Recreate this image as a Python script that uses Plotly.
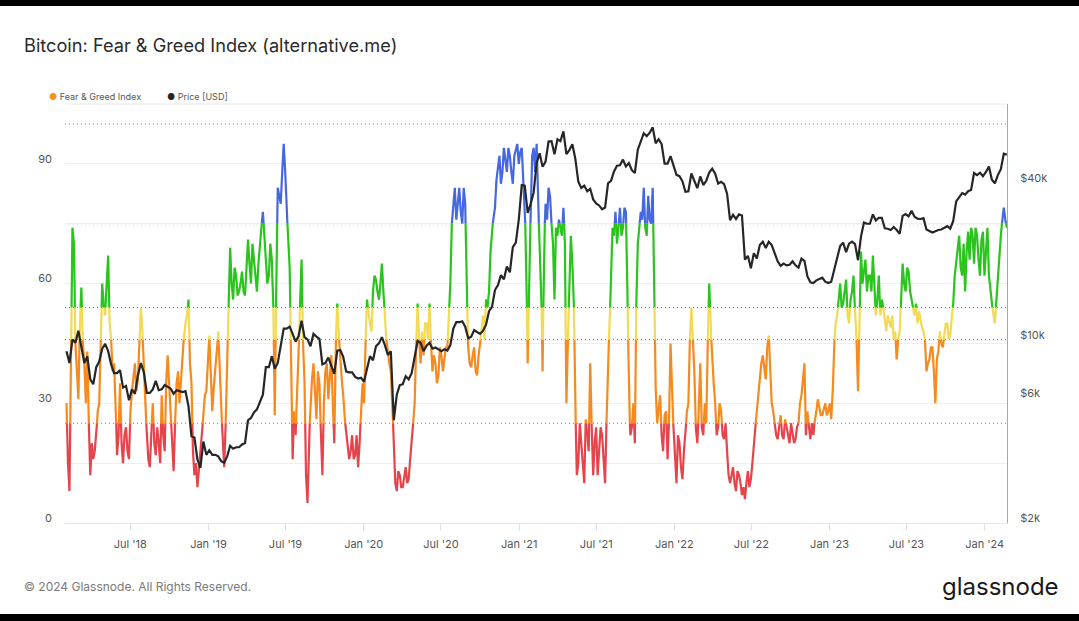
import numpy as np
import pandas as pd
import plotly.graph_objects as go

# ---------------- data ----------------
# weekly samples (Thursdays) plus mid-week samples of the Fear & Greed index
dates = pd.date_range("2018-02-01", periods=317, freq="7D")

fear_greed_weekly = [
    30, 8, 74, 45, 31, 59, 40, 43, 12, 16,
    22, 30, 60, 52, 67, 46, 40, 17, 35, 15,
    24, 16, 33, 40, 36, 54, 40, 22, 14, 30,
    17, 20, 32, 18, 42, 28, 13, 35, 30, 42,
    50, 56, 35, 12, 9, 18, 27, 33, 47, 28,
    38, 48, 30, 14, 40, 69, 56, 62, 58, 63,
    57, 71, 60, 66, 58, 70, 78, 68, 62, 66,
    27, 84, 80, 95, 80, 64, 16, 22, 42, 66,
    35, 5, 30, 40, 26, 35, 12, 38, 31, 42,
    20, 55, 40, 32, 23, 16, 22, 17, 14, 28,
    30, 56, 50, 58, 61, 56, 65, 52, 42, 38,
    20, 8, 12, 9, 14, 11, 22, 30, 55, 40,
    42, 50, 55, 38, 40, 37, 42, 41, 44, 60,
    80, 76, 84, 75, 80, 44, 39, 44, 37, 45,
    52, 56, 58, 74, 79, 90, 85, 94, 88, 92,
    85, 94, 90, 94, 80, 40, 78, 94, 95, 70,
    38, 80, 84, 75, 56, 72, 74, 79, 30, 60,
    65, 30, 15, 20, 10, 22, 40, 12, 24, 18,
    22, 10, 40, 60, 72, 70, 79, 74, 78, 31,
    24, 20, 70, 78, 84, 72, 76, 84, 34, 28,
    22, 27, 16, 45, 24, 10, 20, 11, 22, 30,
    54, 38, 20, 40, 22, 25, 60, 40, 30, 24,
    28, 21, 18, 10, 14, 8, 12, 7, 6, 13,
    11, 20, 28, 35, 42, 36, 47, 30, 25, 21,
    27, 21, 24, 20, 23, 21, 25, 32, 40, 28,
    21, 22, 28, 29, 27, 30, 28, 26, 45, 52,
    60, 55, 61, 50, 58, 53, 33, 68, 64, 58,
    62, 67, 52, 62, 56, 50, 52, 49, 46, 41,
    48, 65, 58, 63, 56, 52, 50, 51, 48, 38,
    41, 44, 30, 43, 45, 47, 50, 47, 55, 66,
    72, 62, 58, 73, 74, 65, 72, 62, 73, 70,
    62, 55, 50, 60, 72, 79, 74,
]

fear_greed_midweek = [
    15, 40, 70, 38, 50, 45, 30, 25, 20, 18,
    28, 45, 55, 62, 50, 38, 30, 22, 20, 22,
    18, 28, 36, 33, 45, 48, 30, 16, 22, 20,
    24, 15, 22, 35, 36, 20, 25, 38, 36, 47,
    52, 40, 18, 15, 14, 22, 32, 40, 35, 34,
    42, 38, 20, 25, 55, 60, 64, 57, 60, 58,
    64, 65, 70, 62, 65, 74, 72, 60, 70, 55,
    60, 82, 88, 88, 70, 40, 28, 34, 55, 45,
    12, 20, 36, 32, 38, 22, 30, 40, 36, 30,
    45, 48, 36, 26, 20, 18, 16, 22, 20, 35,
    45, 52, 48, 62, 58, 60, 58, 46, 40, 30,
    10, 13, 9, 12, 10, 16, 25, 44, 46, 48,
    50, 46, 45, 42, 35, 44, 38, 44, 52, 75,
    84, 80, 78, 84, 60, 40, 42, 38, 42, 48,
    46, 54, 68, 76, 86, 92, 88, 90, 94, 88,
    92, 95, 93, 86, 66, 60, 92, 88, 80, 62,
    70, 76, 82, 70, 74, 76, 72, 70, 45, 72,
    56, 12, 25, 14, 26, 18, 24, 20, 12, 24,
    15, 26, 50, 74, 78, 74, 72, 79, 60, 22,
    30, 55, 74, 76, 74, 82, 75, 60, 25, 32,
    18, 28, 26, 30, 18, 22, 14, 18, 28, 46,
    46, 24, 28, 24, 30, 45, 50, 35, 22, 30,
    22, 25, 12, 12, 10, 13, 10, 9, 10, 9,
    15, 24, 32, 40, 38, 44, 40, 28, 22, 24,
    22, 26, 21, 25, 20, 24, 30, 36, 22, 24,
    25, 26, 31, 27, 29, 27, 30, 33, 50, 56,
    54, 58, 52, 56, 62, 46, 50, 60, 66, 62,
    58, 60, 56, 52, 54, 48, 50, 52, 48, 46,
    56, 60, 64, 58, 54, 55, 53, 49, 46, 40,
    44, 38, 41, 48, 44, 50, 46, 52, 62, 70,
    64, 70, 68, 66, 72, 74, 66, 71, 62, 74,
    58, 52, 56, 66, 76, 76,
]

price_usd = [
    9100, 8200, 10100, 9800, 10900, 9300, 8200, 8700, 7100, 6800,
    7900, 8300, 9300, 9700, 9100, 8100, 7500, 7500, 7700, 6600,
    6700, 5900, 6500, 6250, 7350, 8200, 7550, 6300, 6300, 6500,
    7000, 6450, 6500, 6750, 6650, 6550, 6250, 6450, 6400, 6350,
    6400, 5600, 4300, 4250, 3500, 3250, 4100, 3650, 3800, 3650,
    3650, 3600, 3450, 3400, 3600, 3950, 3850, 3900, 3900, 4000,
    4050, 4950, 5050, 5300, 5450, 5800, 6200, 7900, 7900, 8700,
    7800, 8200, 9500, 11100, 11100, 11300, 10600, 9900, 10400, 11900,
    10300, 10100, 9500, 10600, 10350, 10150, 8100, 8200, 8600, 8000,
    7450, 9150, 9200, 8650, 7600, 7550, 7550, 7250, 7150, 7200,
    6950, 7800, 8700, 8400, 9500, 9750, 10300, 9600, 8800, 9100,
    4950, 6200, 6750, 6800, 7300, 7100, 7500, 8650, 9950, 9800,
    9100, 9550, 9800, 9300, 9400, 9250, 9100, 9250, 9150, 9600,
    11100, 11750, 11750, 11850, 11300, 10200, 10350, 10950, 10750, 10600,
    10900, 11500, 12950, 13450, 15600, 16300, 17800, 17150, 19200, 18250,
    22800, 23700, 29000, 39400, 39200, 30800, 33400, 36900, 47900, 52100,
    46300, 48400, 57800, 58000, 51700, 59000, 58000, 63200, 51700, 53600,
    56400, 49700, 40600, 38400, 39200, 37300, 38100, 34700, 33500, 32900,
    31800, 32300, 40000, 40900, 44400, 46700, 46900, 49300, 46400, 47800,
    44900, 43800, 53800, 57400, 62200, 60600, 62500, 65500, 56900, 59000,
    56500, 47600, 47600, 50800, 47100, 43100, 42600, 40700, 37100, 37300,
    43600, 40500, 38300, 42500, 39400, 40900, 44000, 45500, 43500, 39900,
    40500, 39700, 36500, 28900, 30300, 29200, 30400, 30100, 20400, 21100,
    18900, 21600, 20600, 23200, 23900, 22600, 23900, 23200, 21400, 20100,
    19300, 19700, 19400, 19500, 20100, 19400, 19000, 20600, 20200, 17600,
    16700, 16600, 17000, 17200, 17400, 16800, 16600, 16800, 18800, 21100,
    23000, 23700, 21800, 23500, 23900, 23400, 20300, 25000, 28300, 28000,
    28000, 30400, 28800, 29500, 29500, 26900, 26800, 26500, 27200, 26500,
    25600, 30000, 30500, 29900, 31400, 29800, 29300, 29200, 29400, 26600,
    26200, 25900, 26200, 26500, 26600, 27000, 27400, 26800, 28700, 34100,
    35400, 36700, 36200, 37300, 37700, 43800, 43000, 43900, 42600, 44200,
    46400, 41300, 40000, 43000, 45300, 51900, 51500,
]

zone_thresholds = [25, 46, 54, 75]
zone_colors = ["#e5454a", "#f68a1e", "#f2da55", "#29c41c", "#4568e0"]
left_ticks = [0, 30, 60, 90]
price_ticks = [2000, 6000, 10000, 40000]
price_tick_text = ["$2k", "$6k", "$10k", "$40k"]
price_grid = [4000, 8000, 20000, 40000, 60000]
dotted_levels = [25, 46, 54, 75, 100]

# interleave weekly and mid-week index readings
mid_dates = dates[:-1] + pd.Timedelta(hours=84)
fg = pd.Series(fear_greed_weekly, index=dates)
fg = pd.concat([fg, pd.Series(fear_greed_midweek, index=mid_dates)]).sort_index()
fg_dates = fg.index
fg_vals = fg.values.astype(float)

# ---------------- split F&G line into colour zones ----------------
def zone_of(v):
    for i, t in enumerate(zone_thresholds):
        if v < t:
            return i
    return len(zone_thresholds)

tsec = fg_dates.values.astype("datetime64[s]").astype("int64").astype(float)
seg_x = {i: [] for i in range(5)}
seg_y = {i: [] for i in range(5)}
last_end = {i: None for i in range(5)}
for k in range(len(fg_vals) - 1):
    t0, v0, t1, v1 = tsec[k], fg_vals[k], tsec[k + 1], fg_vals[k + 1]
    lo, hi = min(v0, v1), max(v0, v1)
    cuts = [th for th in zone_thresholds if lo < th < hi]
    if v1 < v0:
        cuts = cuts[::-1]
    pts = [(t0, v0)] + [(t0 + (t1 - t0) * (c - v0) / (v1 - v0), c) for c in cuts] + [(t1, v1)]
    for (ta, va), (tb, vb) in zip(pts[:-1], pts[1:]):
        z = zone_of((va + vb) / 2)
        if last_end[z] != (ta, va):
            if seg_x[z]:
                seg_x[z].append(None)
                seg_y[z].append(None)
            seg_x[z].append(pd.Timestamp(ta, unit="s"))
            seg_y[z].append(va)
        seg_x[z].append(pd.Timestamp(tb, unit="s"))
        seg_y[z].append(vb)
        last_end[z] = (tb, vb)

fig = go.Figure()
for z in range(5):
    fig.add_trace(go.Scatter(
        x=seg_x[z], y=seg_y[z], mode="lines",
        line=dict(color=zone_colors[z], width=2.2),
        showlegend=False, hoverinfo="skip", yaxis="y",
    ))

fig.add_trace(go.Scatter(
    x=dates, y=price_usd, mode="lines",
    line=dict(color="#262626", width=2.2),
    showlegend=False, yaxis="y2", name="Price [USD]",
))

FONT = "Inter, 'Noto Sans', sans-serif"

shapes = []
for p in price_grid:
    shapes.append(dict(type="line", xref="paper", x0=0, x1=1, yref="y2",
                       y0=np.log10(p), y1=np.log10(p),
                       line=dict(color="#efefef", width=1), layer="below"))
for lv in dotted_levels:
    shapes.append(dict(type="line", xref="paper", x0=0, x1=1, yref="y",
                       y0=lv, y1=lv,
                       line=dict(color="#7c7c7c", width=1, dash="1px,3px"), layer="below"))
shapes.append(dict(type="line", xref="paper", x0=0, x1=1, yref="paper", y0=1, y1=1,
                   line=dict(color="#e6e6e6", width=1), layer="below"))
shapes.append(dict(type="rect", xref="paper", yref="paper", x0=-0.08, x1=1.1,
                   y0=1.2339, y1=1.27, fillcolor="#000000", line=dict(width=0)))
shapes.append(dict(type="rect", xref="paper", yref="paper", x0=-0.08, x1=1.1,
                   y0=-0.26, y1=-0.2172, fillcolor="#000000", line=dict(width=0)))

annotations = [
    dict(text="Bitcoin: Fear & Greed Index (alternative.me)", xref="paper", yref="paper",
         x=-0.0456, y=1.1408, xanchor="left", yanchor="middle", showarrow=False,
         font=dict(family=FONT, size=18.2, color="#2b2b2b")),
    dict(text="<span style='color:#f7931a'>●</span> Fear & Greed Index", xref="paper", yref="paper",
         x=-0.0195, y=1.0185, xanchor="left", yanchor="middle", showarrow=False,
         font=dict(family=FONT, size=9, color="#555555")),
    dict(text="<span style='color:#262626'>●</span> Price [USD]", xref="paper", yref="paper",
         x=0.1062, y=1.0185, xanchor="left", yanchor="middle", showarrow=False,
         font=dict(family=FONT, size=9, color="#555555")),
    dict(text="© 2024 Glassnode. All Rights Reserved.", xref="paper", yref="paper",
         x=-0.0456, y=-0.1527, xanchor="left", yanchor="middle", showarrow=False,
         font=dict(family=FONT, size=12, color="#7a7a7a")),
    dict(text="glassnode", xref="paper", yref="paper",
         x=1.0573, y=-0.1515, xanchor="right", yanchor="middle", showarrow=False,
         font=dict(family=FONT, size=24, color="#1a1a1a")),
]

fig.update_layout(
    width=1079, height=621,
    margin=dict(l=65, r=72, t=104, b=98),
    paper_bgcolor="white", plot_bgcolor="white",
    showlegend=False,
    font=dict(family=FONT, size=11, color="#555555"),
    shapes=shapes, annotations=annotations,
    xaxis=dict(
        type="date",
        range=["2018-01-28 12:00", "2024-02-22 12:00"],
        tick0="2018-01-01", dtick="M6", tickformat="%b '%y",
        showgrid=False, zeroline=False,
        showline=True, linecolor="#e6e6e6", linewidth=1,
        ticks="outside", ticklen=7, tickcolor="#e2e2e2",
        ticklabelstandoff=4,
        tickfont=dict(family=FONT, size=11, color="#555555"),
    ),
    yaxis=dict(
        range=[0, 105], tickvals=left_ticks,
        showgrid=True, gridcolor="#efefef", gridwidth=1,
        minor=dict(dtick=15, tick0=0, showgrid=True, gridcolor="#efefef"),
        zeroline=False, showline=False, ticks="",
        ticklabelstandoff=12, ticklabelshift=-5,
        tickfont=dict(family=FONT, size=11, color="#555555"),
    ),
    yaxis2=dict(
        type="log", overlaying="y", side="right",
        range=[np.log10(2000), 4.9057],
        tickvals=price_ticks, ticktext=price_tick_text,
        showgrid=False, zeroline=False,
        showline=True, linecolor="#a8a8a8", linewidth=1, ticks="",
        ticklabelstandoff=10, ticklabelshift=-5,
        tickfont=dict(family=FONT, size=11, color="#555555"),
    ),
)

fig.write_html("out.html")
